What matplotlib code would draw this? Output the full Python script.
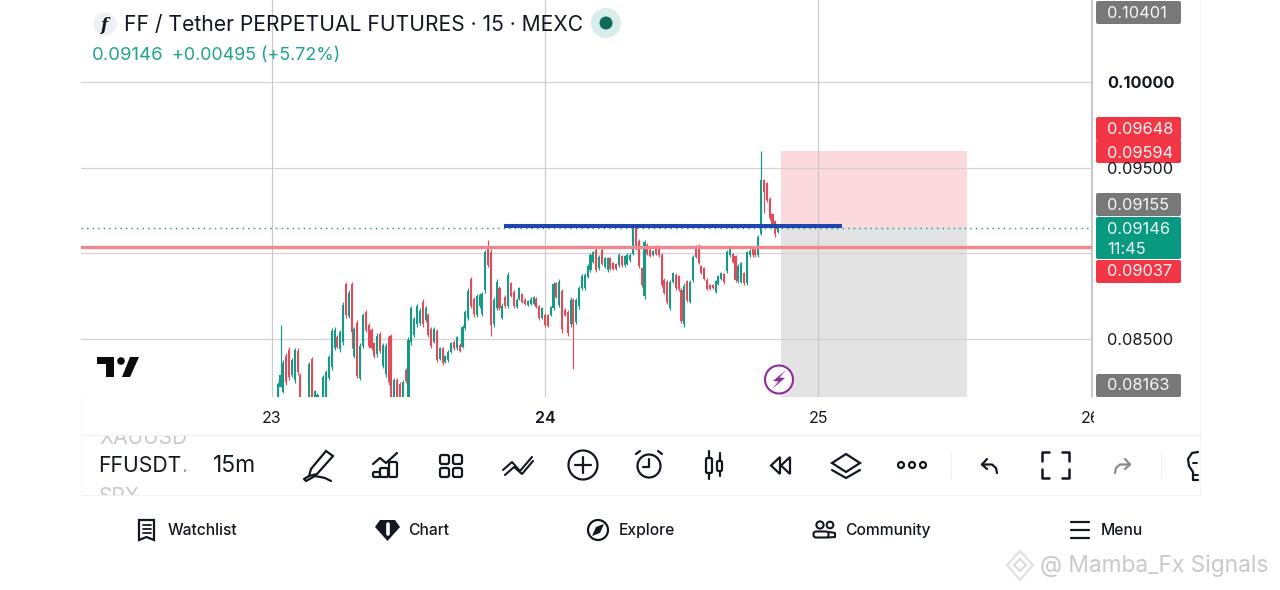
import matplotlib
matplotlib.use("Agg")
import matplotlib.pyplot as plt
from matplotlib.patches import Circle, Rectangle, FancyBboxPatch, Polygon

plt.rcParams['font.family'] = ['Inter', 'DejaVu Sans']

UNIT = 1e-5  # candle values below are in 0.00001 USDT
opens = [8163,8222,8190,8400,8435,8290,8260,8430,8290,8130,8110,8163,8385,8163,8150,8150,8163,8163,8275,8335,
         8450,8510,8440,8480,8820,8635,8820,8400,8595,8275,8460,8655,8580,8550,8475,8410,8530,8340,8295,8510,
         8515,8163,8260,8240,8163,8320,8163,8480,8525,8585,8595,8715,8610,8640,8560,8485,8545,8385,8445,8365,
         8375,8425,8485,8445,8468,8455,8565,8625,8850,8735,8640,8690,8645,8785,9040,9010,8585,8680,8795,8625,
         8745,8690,8825,8775,8688,8735,8762,8730,8698,8704,8704,8735,8690,8625,8642,8638,8642,8680,8825,8700,
         8778,8672,8660,8585,8725,8598,8690,8795,8795,8862,8902,8952,9018,8912,9018,8920,8902,8972,8944,8935,
         8930,8982,8930,8940,8958,8998,9150,9070,8912,8750,9050,9020,8990,9040,9034,8990,8846,8835,8680,8832,
         8876,8865,8786,8585,8836,8718,8845,9040,9045,8925,8915,8846,8815,8815,8775,8822,8850,8880,8896,8988,
         8996,8982,8838,8835,8885,8826,8988,9030,9020,8990,9115,9430,9410,9318,9228,9186,9122]
closes = [8235,8290,8360,8250,8280,8375,8435,8305,8163,8110,8140,8355,8163,8195,8175,8110,8280,8310,8395,8545,
          8555,8455,8540,8700,8640,8770,8540,8560,8285,8460,8640,8555,8460,8450,8400,8520,8430,8465,8460,8250,
          8163,8260,8163,8163,8250,8255,8495,8680,8615,8690,8665,8585,8680,8525,8460,8560,8380,8445,8358,8400,
          8425,8475,8445,8510,8432,8570,8655,8780,8690,8645,8750,8755,8765,9005,8930,8580,8730,8835,8680,8695,
          8690,8875,8752,8690,8728,8795,8716,8705,8722,8736,8744,8688,8620,8680,8582,8578,8685,8822,8745,8835,
          8560,8642,8535,8730,8590,8725,8797,8868,8872,8928,8990,9006,8902,8980,8940,8972,8970,8910,8910,8908,
          8990,8930,8982,8990,8992,9145,9030,8925,8815,9065,8998,8984,9012,8996,8988,8815,8770,8715,8830,8885,
          8795,8790,8605,8812,8728,8835,8980,8978,8945,8886,8852,8794,8792,8795,8836,8866,8886,8830,9010,9026,
          8950,8845,8928,8942,8824,9005,9015,8988,8988,9095,9430,9360,9310,9205,9172,9110,9146]
highs = [8251,8581,8377,8416,8451,8387,8445,8445,8300,8140,8150,8367,8397,8202,8183,8160,8290,8319,8406,8562,
         8568,8523,8552,8717,8834,8785,8834,8572,8611,8474,8653,8669,8591,8562,8484,8533,8543,8474,8474,8523,
         8529,8270,8270,8251,8261,8329,8509,8692,8630,8704,8679,8731,8692,8650,8572,8572,8556,8455,8455,8406,
         8436,8484,8494,8518,8474,8581,8669,8795,8863,8747,8762,8766,8776,9019,9077,9023,8743,8848,8809,8708,
         8757,8889,8834,8786,8737,8805,8770,8737,8727,8743,8751,8743,8698,8688,8650,8646,8692,8834,8834,8848,
         8790,8679,8669,8743,8737,8737,8809,8879,8883,8937,8999,9015,9028,8990,9028,8980,8980,8980,8951,8941,
         8999,8990,8990,8999,8999,9159,9165,9081,8922,9077,9058,9028,9019,9048,9042,8999,8854,8844,8844,8893,
         8883,8873,8795,8825,8844,8844,8990,9048,9054,8931,8922,8854,8821,8821,8844,8873,8893,8887,9019,9034,
         9003,8990,8937,8951,8893,9015,9023,9038,9028,9106,9594,9431,9417,9326,9236,9194,9155]
lows = [8163,8222,8183,8232,8261,8280,8245,8290,8163,8100,8100,8163,8163,8163,8150,8100,8163,8163,8261,8319,
        8436,8445,8426,8465,8620,8620,8445,8387,8270,8261,8445,8543,8445,8436,8387,8397,8416,8329,8280,8232,
        8163,8163,8163,8163,8163,8241,8163,8465,8513,8572,8581,8572,8601,8513,8445,8474,8367,8377,8348,8358,
        8367,8416,8436,8436,8426,8445,8552,8611,8679,8630,8626,8679,8634,8770,8922,8518,8572,8669,8669,8615,
        8679,8679,8743,8679,8679,8727,8708,8698,8692,8698,8698,8679,8611,8615,8572,8568,8634,8669,8737,8688,
        8537,8634,8518,8572,8323,8587,8677,8786,8786,8854,8892,8945,8892,8902,8931,8912,8892,8902,8902,8902,
        8922,8922,8922,8931,8951,8990,9019,8912,8805,8731,8990,8976,8984,8990,8980,8805,8762,8704,8669,8825,
        8786,8782,8591,8572,8718,8708,8834,8970,8937,8879,8844,8786,8786,8790,8766,8815,8844,8821,8887,8980,
        8941,8834,8828,8825,8815,8815,8980,8980,8980,8980,9106,9233,9301,9194,9165,9093,9116]

day_ticks = [23, 24, 25, 26]
day_labels = ['23', '24', '25', '26']
price_grid = [0.085, 0.090, 0.095, 0.100]
last_price = 0.09146
resistance = 0.09162
support = 0.09037
entry = 0.09155
stop = 0.09594
target = 0.08163

GREEN = '#089981'
RED = '#f23645'
CANDLE_UP = '#179a85'
CANDLE_DOWN = '#e14c5c'
BARS_PER_DAY = 96

fig = plt.figure(figsize=(12.8, 5.9), dpi=100, facecolor='white')

# price pane: x in days of the month, y in price
ax = fig.add_axes([81/1280, 1-397/590, (1092-81)/1280, 397/590])
ax.set_xlim(22.3004, 26.0037)
ax.set_ylim(0.08185 - 0.00023, 0.10477)
ax.axis('off')

ax.add_patch(Rectangle((24.8645, entry), 25.5458-24.8645, stop-entry, fc='#fcd9dc', ec='none', zorder=1))
ax.add_patch(Rectangle((24.8645, target), 25.5458-24.8645, entry-target, fc='#e3e3e3', ec='none', zorder=1))
for p in price_grid:
    ax.axhline(p, color='#d2d2d4', lw=0.85, zorder=1.5)
for d in day_ticks:
    ax.axvline(d, color='#c9c9cc', lw=0.85, zorder=1.5)

xs = [23 + (i + 2) / BARS_PER_DAY for i in range(len(opens))]
for x, o, h, l, c in zip(xs, opens, highs, lows, closes):
    col = CANDLE_UP if c >= o else CANDLE_DOWN
    ax.vlines(x, l*UNIT, h*UNIT, color=col, lw=0.85, zorder=3)
    ax.bar(x, abs(c-o)*UNIT, bottom=min(o, c)*UNIT, width=0.72/BARS_PER_DAY, color=col, lw=0, zorder=3)

ax.axhline(support, color='#f0868e', lw=2.4, zorder=4)
ax.axhline(last_price, color=GREEN, lw=1.0, ls=(0, (1, 3)), zorder=4)
ax.plot([23.8498, 25.0879], [resistance, resistance], color='#1f46b0', lw=2.9, solid_capstyle='butt', zorder=5)

# interface layer in pixel coordinates
ui = fig.add_axes([0, 0, 1, 1], facecolor='none')
ui.set_xlim(0, 1280)
ui.set_ylim(590, 0)
ui.axis('off')

def line(pts, c='#131722', lw=1.6, **kw):
    xs_, ys_ = zip(*pts)
    ui.plot(xs_, ys_, color=c, lw=lw, solid_capstyle='round', solid_joinstyle='round', **kw)

def circ(x, y, r, fc='none', ec='#131722', lw=1.6, **kw):
    ui.add_patch(Circle((x, y), r, fc=fc, ec=ec, lw=lw, **kw))

def box(x, y, w, h, fc='none', ec='#131722', lw=1.6, r=1.5):
    ui.add_patch(FancyBboxPatch((x+r, y+r), w-2*r, h-2*r, boxstyle=f'round,pad={r},rounding_size={r}', fc=fc, ec=ec, lw=lw))

def clipped(t, x, y, w, h):
    t.set_clip_on(True)
    t.set_clip_path(Rectangle((x, y), w, h, transform=ui.transData))

# frame lines
line([(1091.5, 0), (1091.5, 397)], c='#c9c9cc', lw=0.85)
line([(1199.5, 0), (1199.5, 495)], c='#f4f4f5', lw=0.8)
line([(81, 435), (1200, 435)], c='#f1f1f2', lw=0.8)
line([(81, 495), (1200, 495)], c='#f1f1f2', lw=0.8)
line([(81, 397), (81, 495)], c='#f8f8f8', lw=0.8)

# header
circ(105, 24, 11.5, fc='#eef0f5', ec='none', lw=0)
ui.text(104.5, 25, 'f', fontsize=12, style='italic', weight='bold', family='DejaVu Serif', ha='center', va='center', color='#131722')
ui.text(124, 25, 'FF / Tether PERPETUAL FUTURES · 15 · MEXC', fontsize=15.15, color='#131722', va='center')
circ(606, 23, 15, fc='#d8eeea', ec='none', lw=0)
circ(606, 23, 6.5, fc='#0f6b5b', ec='none', lw=0)
ui.text(92, 56, '0.09146', fontsize=13.4, color=GREEN, va='center', alpha=.9)
ui.text(172, 56, '+0.00495 (+5.72%)', fontsize=12.85, color=GREEN, va='center', alpha=.9)

# TradingView mark
ui.add_patch(Polygon([(97,357),(114,357),(114,377),(106,377),(106,364),(97,364)], fc='#0b0b0f', ec='none'))
circ(121, 361, 3.8, fc='#0b0b0f', ec='none', lw=0)
ui.add_patch(Polygon([(130,357),(139,357),(130,377),(122,377)], fc='#0b0b0f', ec='none'))

# lightning marker
circ(779, 379.5, 14, fc='white', ec='#8e2a9e', lw=1.5, zorder=6)
ui.add_patch(Polygon([(786,370),(773,381),(778.5,381.5),(772,389),(785,378),(779.5,377.5)], fc='#8e2a9e', ec='none', zorder=7))

# time axis labels
for d, lab in zip(day_ticks, day_labels):
    px = 272 + (d-23)*273
    t = ui.text(px, 418.5, lab, fontsize=11.5, ha='center', va='center', color='#131722',
                weight='semibold' if d == 24 else 'normal')
    clipped(t, 0, 400, 1094, 35)

# price axis
def plain(y, s, weight='normal'):
    ui.text(1107, y+1.2, s, fontsize=11.8, color='#131722', va='center', weight=weight)

def tag(y0, y1, c, lines):
    ui.add_patch(FancyBboxPatch((1098, y0+2), 81, y1-y0-4, boxstyle='round,pad=2,rounding_size=2', fc=c, ec='none'))
    for yy, s in lines:
        ui.text(1107, yy+1, s, fontsize=11.8, color='white', va='center', alpha=.95)

plain(82, '0.10000', 'bold')
plain(168, '0.09500')
plain(339, '0.08500')
tag(1, 24, '#787878', [(13, '0.10401')])
tag(117, 141, '#f23645', [(129, '0.09648')])
tag(140, 163, '#f23645', [(152, '0.09594')])
tag(193, 216, '#787878', [(205, '0.09155')])
tag(217, 259, '#089981', [(229, '0.09146'), (248, '11:45')])
tag(260, 283, '#f23645', [(271, '0.09037')])
tag(374, 397, '#787878', [(385, '0.08163')])

# toolbar
t = ui.text(99, 444, 'XAUUSD', fontsize=15, color='#c8c8cc', va='baseline')
clipped(t, 81, 436, 107, 20)
t = ui.text(99, 503, 'SPX', fontsize=15, color='#c8c8cc', va='baseline')
clipped(t, 81, 480, 107, 15)
ui.text(98, 466.5, 'FFUSDT', fontsize=15.2, color='#131722', va='center')
ui.text(181, 466.5, '.', fontsize=15.2, color='#9a9a9e', va='center')
ui.text(213, 466.5, '15m', fontsize=16.5, color='#131722', va='center')

# pen
ui.add_patch(Polygon([(326,451),(333,456),(317,474),(309,476),(311,469)], fc='none', ec='#131722', lw=1.6))
line([(309,476),(304,479),(306,481),(315,476),(325,478),(331,481)])
# indicators
line([(373,464),(380,458),(386,463),(397,453)])
box(373,472,7,5); box(380,468,8,9); box(389,462,8,15)
# layouts
for x_, y_ in [(440,455),(453,455),(440,468),(453,468)]:
    box(x_,y_,9,9, lw=1.6, r=2)
# trend icons
line([(503,470),(512,462),(520,471),(532,457)], lw=1.5)
line([(505,475),(514,467),(522,474),(533,461)], lw=1.5)
# plus
circ(583,465,14.5)
line([(575,465),(591,465)]); line([(583,457),(583,473)])
# alarm
circ(649,466,11.5)
line([(649,459),(649,467),(643,467)])
line([(636,454),(640,451)]); line([(658,451),(662,454)])
# candles
box(706,458,6,15); line([(709,451),(709,458)]); line([(709,473),(709,479)])
box(717,461,5,10); line([(719.5,453),(719.5,461)]); line([(719.5,471),(719.5,476)])
# replay
ui.add_patch(Polygon([(780,457),(771,465.5),(780,474)], fc='none', ec='#131722', lw=1.6))
ui.add_patch(Polygon([(790,457),(781,465.5),(790,474)], fc='none', ec='#131722', lw=1.6))
# layers
ui.add_patch(Polygon([(846,454),(860,463),(846,472),(832,463)], fc='none', ec='#131722', lw=1.6))
line([(832,470),(846,478),(860,470)])
# dots
for x_ in (901,912,923):
    circ(x_,465,3,lw=1.6)
line([(951,452),(951,478)], c='#f1f1f2', lw=0.8)
# undo
line([(987,459),(982,464.5),(987,469)]); line([(982,464.5),(992,464.5),(996,468),(997,473)])
# fullscreen brackets
for a,b,c_ in [((1042,461),(1042,452),(1049,452)),((1062,452),(1069,452),(1069,461)),
               ((1042,469),(1042,478),(1049,478)),((1062,478),(1069,478),(1069,469))]:
    line([a,b,c_], lw=1.8)
# redo
line([(1125,459),(1130,464.5),(1125,469)], c='#8a8a8e'); line([(1130,464.5),(1120,464.5),(1116,468),(1115,473)], c='#8a8a8e')
line([(1161,452),(1161,478)], c='#f1f1f2', lw=0.8)
# idea bulb, cut by the frame
line([(1198,452),(1192,453),(1188,459),(1189,466),(1193,472),(1193,480),(1198,480)], lw=1.6)
line([(1193,475),(1198,475)], lw=1.4); line([(1193,463),(1197,463)], lw=1.4)

# bottom navigation
NAV = dict(fontsize=11.25, color='#131722', va='center', weight='medium')
ui.text(168, 530.5, 'Watchlist', **NAV)
ui.text(408, 530.5, 'Chart', **NAV)
ui.text(619, 530.5, 'Explore', **NAV)
ui.text(845, 530.5, 'Community', **NAV)
ui.text(1101, 530.5, 'Menu', **NAV)
# watchlist icon
ui.add_patch(Polygon([(139,520),(154,520),(154,540),(146.5,537),(139,540)], fc='none', ec='#131722', lw=1.6))
for y_ in (525,529,533):
    line([(142.5,y_),(150.5,y_)], lw=1.3)
# chart gem
ui.add_patch(Polygon([(380,520),(395,520),(400,527),(387.5,541),(375,527)], fc='#131722', ec='none'))
line([(387.5,524),(387.5,534)], c='white', lw=2.6)
# compass
circ(598,530,10)
ui.add_patch(Polygon([(604,524),(600,533),(592,536),(596,527)], fc='#131722', ec='none'))
# people
circ(820,525,3.6,lw=1.5); circ(830,525,3.3,lw=1.5)
ui.add_patch(FancyBboxPatch((815,533),12,3,boxstyle='round,pad=1.5,rounding_size=2.5',fc='none',ec='#131722',lw=1.5))
line([(829,532),(835,533),(835,537),(828,537.5)],lw=1.5)
# menu
for y_ in (522,530,538):
    line([(1071,y_),(1089,y_)], lw=1.6)

# watermark
WM = '#c9c9cb'
ui.add_patch(Polygon([(1020,551),(1033,565),(1020,580),(1007,565)], fc='none', ec='#e2e2e3', lw=1.6))
ui.add_patch(Polygon([(1020,559),(1026,565),(1020,571),(1014,565)], fc='none', ec='#d8d8da', lw=1.4))
ui.text(1040, 566, '@ Mamba_Fx Signals', fontsize=16.4, color=WM, va='center')

fig.savefig('out.png', dpi=100)
